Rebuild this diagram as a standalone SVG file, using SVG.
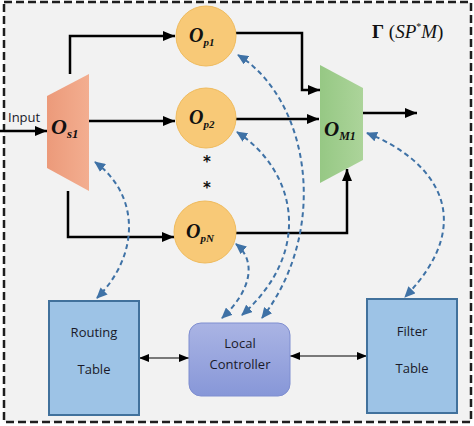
<svg xmlns="http://www.w3.org/2000/svg" width="474" height="426" viewBox="0 0 474 426">
<defs>
<style>
.frame{fill:#f2f2f2;stroke:#1e1e1e;stroke-width:2.5;stroke-dasharray:8,4}
.flow{fill:none;stroke:#000;stroke-width:2.5}
.dbl{fill:none;stroke:#000;stroke-width:1.2}
.ctl{fill:none;stroke:#3f72a6;stroke-width:2;stroke-dasharray:5,3.5}
.circ{fill:#f8c977;stroke:#efbb5e;stroke-width:1}
.tbl{fill:#9dc3e6;stroke:#41719c;stroke-width:2}
.lbl{font-family:"Open Sans","Liberation Sans",sans-serif;font-size:13px;fill:#1a1a2a}
.op{font-family:"Liberation Serif","DejaVu Serif",serif;font-style:italic;font-weight:bold;fill:#111}
</style>
<linearGradient id="gOrange" x1="0" y1="0" x2="1" y2="0">
<stop offset="0" stop-color="#ec9a7a"/><stop offset="1" stop-color="#f3ae90"/>
</linearGradient>
<linearGradient id="gGreen" x1="0" y1="0" x2="1" y2="0">
<stop offset="0" stop-color="#96c884"/><stop offset="1" stop-color="#acd49a"/>
</linearGradient>
<linearGradient id="gLC" x1="0" y1="0" x2="0" y2="1">
<stop offset="0" stop-color="#aab4e4"/><stop offset="1" stop-color="#8797d8"/>
</linearGradient>
<marker id="ah" markerUnits="userSpaceOnUse" markerWidth="12" markerHeight="10" refX="12" refY="5" orient="auto">
<path d="M0,0 L12,5 L0,10 z" fill="#000"/>
</marker>
<marker id="ahs" markerUnits="userSpaceOnUse" markerWidth="10" markerHeight="8" refX="10" refY="4" orient="auto-start-reverse">
<path d="M0,0 L10,4 L0,8 z" fill="#000"/>
</marker>
<marker id="ab" markerUnits="userSpaceOnUse" markerWidth="11" markerHeight="10" refX="10" refY="5" orient="auto-start-reverse">
<path d="M0,0 L11,5 L0,10 z" fill="#3f72a6"/>
</marker>
</defs>

<rect class="frame" x="4" y="2" width="467" height="420"/>

<g id="gamma-label">
<text x="372" y="38" font-family="Liberation Serif, serif" font-size="19" fill="#111"><tspan font-weight="bold">Γ</tspan> (<tspan font-style="italic">SP</tspan><tspan font-size="10" dy="-8">*</tspan><tspan font-style="italic" dy="8">M</tspan>)</text>
</g>

<g id="connectors">
<path class="flow" d="M0 131 H47" marker-end="url(#ah)"/>
<path class="flow" d="M70 74 V36 H175" marker-end="url(#ah)"/>
<path class="flow" d="M89 121 H175" marker-end="url(#ah)"/>
<path class="flow" d="M68 191 V237 H174" marker-end="url(#ah)"/>
<path class="flow" d="M236 33 H302 V90 H320" marker-end="url(#ah)"/>
<path class="flow" d="M236 119 H319" marker-end="url(#ah)"/>
<path class="flow" d="M236 233 H347 V169" marker-end="url(#ah)"/>
<path class="flow" d="M363 113 H417" marker-end="url(#ah)"/>
<path class="dbl" d="M139 358 H189" marker-start="url(#ahs)" marker-end="url(#ahs)"/>
<path class="dbl" d="M290 356 H367" marker-start="url(#ahs)" marker-end="url(#ahs)"/>
<path class="ctl" d="M95 162 C140 195, 140 255, 97 298" marker-start="url(#ab)" marker-end="url(#ab)"/>
<path class="ctl" d="M238 55 C310 100, 330 230, 262 318" marker-start="url(#ab)" marker-end="url(#ab)"/>
<path class="ctl" d="M237 132 C295 170, 315 250, 242 315" marker-start="url(#ab)" marker-end="url(#ab)"/>
<path class="ctl" d="M236 244 C258 262, 250 292, 222 318" marker-start="url(#ab)" marker-end="url(#ab)"/>
<path class="ctl" d="M367 133 C435 160, 480 220, 405 297" marker-start="url(#ab)" marker-end="url(#ab)"/>
</g>

<g id="input-label"><text class="lbl" x="8" y="122">Input</text></g>

<g id="node-os1">
<polygon points="47,96 89,74 89,191 47,168" fill="url(#gOrange)"/>
<text class="op" x="51" y="134" font-size="22">O<tspan font-size="13" dy="4">s1</tspan></text>
</g>

<g id="node-op1">
<circle class="circ" cx="206" cy="36" r="30"/>
<text class="op" x="189" y="42" font-size="20">O<tspan font-size="11" dy="4">p1</tspan></text>
</g>
<g id="node-op2">
<circle class="circ" cx="206" cy="118" r="30"/>
<text class="op" x="189" y="124" font-size="20">O<tspan font-size="11" dy="4">p2</tspan></text>
</g>
<g id="dots">
<text x="207" y="167" font-family="DejaVu Sans, sans-serif" font-size="15" font-weight="bold" fill="#111" text-anchor="middle">*</text>
<text x="207" y="193" font-family="DejaVu Sans, sans-serif" font-size="15" font-weight="bold" fill="#111" text-anchor="middle">*</text>
</g>
<g id="node-opN">
<circle class="circ" cx="205" cy="232" r="31"/>
<text class="op" x="186" y="238" font-size="20">O<tspan font-size="11" dy="4">pN</tspan></text>
</g>

<g id="node-om1">
<polygon points="320,65 363,88 363,160 320,183" fill="url(#gGreen)"/>
<text class="op" x="324" y="136" font-size="21">O<tspan font-size="12" dy="4">M1</tspan></text>
</g>

<g id="node-routing">
<rect class="tbl" x="49" y="301" width="90" height="114"/>
<text class="lbl" x="94" y="337" text-anchor="middle">Routing</text>
<text class="lbl" x="94" y="374" text-anchor="middle">Table</text>
</g>

<g id="node-local">
<rect x="189" y="323" width="101" height="73" rx="12" fill="url(#gLC)" stroke="#7f8ed0" stroke-width="1"/>
<text class="lbl" x="240" y="348" text-anchor="middle">Local</text>
<text class="lbl" x="240" y="369" text-anchor="middle">Controller</text>
</g>

<g id="node-filter">
<rect class="tbl" x="367" y="299" width="90" height="114"/>
<text class="lbl" x="412" y="336" text-anchor="middle">Filter</text>
<text class="lbl" x="412" y="373" text-anchor="middle">Table</text>
</g>
</svg>
